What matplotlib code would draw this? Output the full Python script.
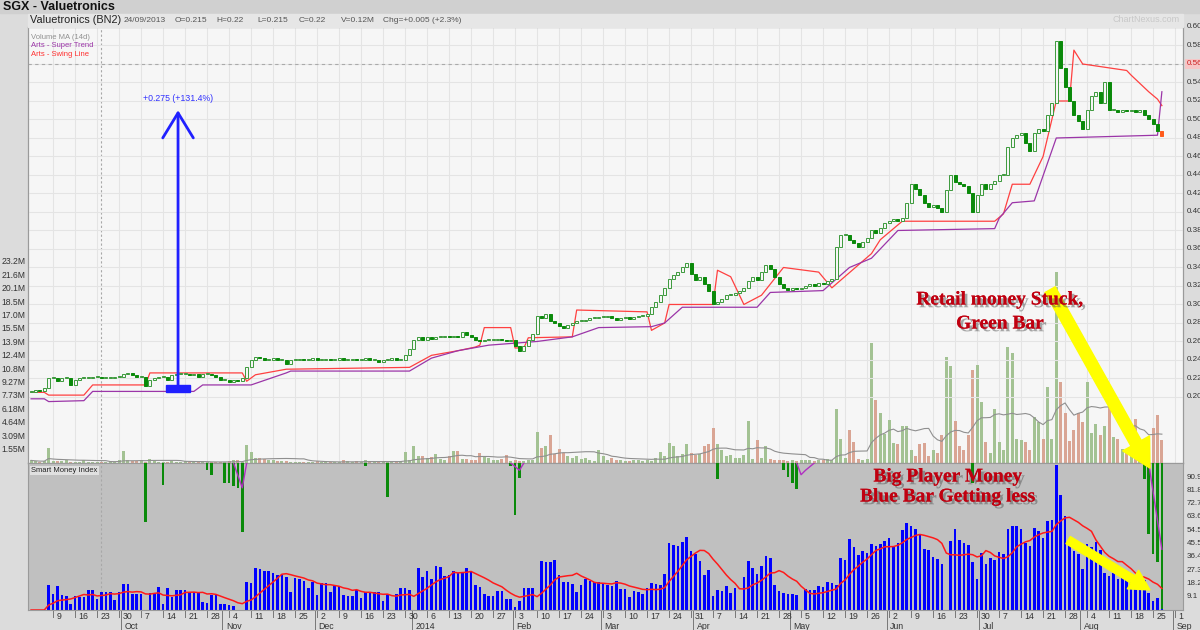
import numpy as np
import pandas as pd
import matplotlib
matplotlib.use("Agg")
import matplotlib.pyplot as plt
from matplotlib.transforms import blended_transform_factory as blend
from matplotlib.patches import Rectangle
import matplotlib.patheffects as pe

plt.rcParams['font.family'] = ['Liberation Sans', 'DejaVu Sans']

# ---------------- DATA ----------------
start_date = '2013-09-02'
# daily closes (trading days, weekly rows)
closes = [
 .205,.207,.206,.210,.220, .220,.217,.220,.220,.213, .218,.220,.220,.220,.222, .222,.220,.220,.220,.222,
 .222,.225,.226,.224,.222, .222,.212,.218,.220,.222, .222,.218,.224,.225,.225, .225,.224,.225,.222,.225,
 .225,.224,.222,.218,.218, .216,.218,.217,.220,.232, .240,.243,.242,.240,.240, .242,.240,.240,.236,.240,
 .240,.241,.240,.240,.242, .240,.240,.241,.240,.240, .242,.240,.240,.241,.240, .240,.242,.240,.240,.238,
 .240,.240,.242,.240,.240, .245,.252,.262,.265,.262, .265,.263,.265,.265,.266, .265,.266,.265,.270,.267,
 .265,.262,.260,.262,.262, .262,.263,.262,.260,.262, .255,.250,.255,.262,.268, .288,.285,.290,.282,.280,
 .277,.275,.278,.280,.282, .282,.283,.285,.285,.286, .286,.288,.285,.283,.285, .286,.284,.286,.287,.288,
 .290,.297,.303,.310,.318, .328,.332,.335,.340,.345, .333,.326,.330,.322,.315, .300,.303,.306,.310,.310,
 .312,.315,.318,.325,.330, .326,.335,.343,.338,.330, .322,.318,.316,.318,.317, .318,.320,.322,.320,.323,
 .322,.325,.328,.362,.375, .375,.370,.366,.362,.368, .372,.380,.377,.383,.388, .390,.392,.390,.393,.410,
 .430,.425,.418,.410,.405, .408,.404,.400,.424,.440, .432,.430,.428,.420,.400, .418,.430,.425,.430,.433,
 .440,.440,.470,.480,.483, .485,.475,.466,.485,.490, .488,.505,.518,.585,.556, .535,.520,.505,.498,.490,
 .510,.525,.530,.518,.540, .510,.510,.508,.510,.509, .510,.508,.510,.505,.500, .495,.488,.482]

volume_m = [
 .3,.2,.15,.2,1.7, .2,.2,.25,.3,.1, .15,.1,.3,.1,.1, .1,.1,.1,.2,.1,
 .4,1.4,.3,.2,.2, .3,.1,.5,.2,.1, .1,.1,.2,.1,.1, .2,.1,.1,.1,.2,
 .1,.1,.1,.1,.1, .2,.3,.4,.1,2.1, 1.3,.6,.6,.5,.3, .3,.2,.2,.2,.1,
 .1,.1,.1,.1,.1, .2,.1,.2,.1,.1, .1,.3,.2,.1,.2, .1,.3,.2,.1,.1,
 .2,.1,.1,.1,.2, 1.3,.3,2.0,.8,.8, .6,.7,1.0,.5,.4, .8,1.4,1.4,.5,.5,
 .4,.3,1.2,.8,.6, .3,.4,.5,.9,.2, .3,.2,.2,.3,.4, 3.6,1.7,1.9,3.2,1.0,
 1.6,1.2,.8,.6,.8, .5,.6,.3,.2,1.5, .8,.4,.6,.3,.3, .2,.2,.3,.4,.2,
 .3,.2,.6,1.3,.8, 2.3,1.9,.8,1.0,2.2, 1.2,.9,1.0,2.0,2.2, 4.0,2.2,1.5,.8,.9,
 .6,.6,.9,4.8,.5, 2.7,.6,2.0,.5,.4, .3,.3,.2,.3,.2, .3,.3,.4,.2,.3,
 .4,.5,.4,6.2,2.8, .6,3.8,2.4,.5,.4, .5,13.8,7.3,5.7,3.3, 5.0,2.3,2.2,4.3,4.3,
 1.5,.8,2.2,2.3,.8, 1.5,1.2,3.2,12.2,11.2, 4.8,2.0,1.5,3.2,10.7, 11.3,7.0,2.4,1.2,6.2,
 2.4,1.5,13.3,12.7,2.8, 2.7,2.4,1.5,5.3,4.7, 2.8,8.8,2.8,22.0,9.3, 5.7,2.5,3.8,5.8,4.7,
 9.3,3.5,4.5,3.2,4.3, 9.0,3.0,2.8,1.6,1.2, 2.0,5.1,.8,2.5,2.0, 4.0,5.5,2.7]

smi_blue = [
 0,0,0,0,
 17,10.7,16.6,10,9.5,4,9.5,9,9,14,14,7.5,12.5,12.5,12.5,7,12,17.8,17.5,10.7,10.7,10.7,
 0,
 11.4,11.4,15.5,4,15,8.6,14,14,14,12.5,12.5,12.5,5.5,5,10,10,3.9,3.9,3.4,2.7,
 0,0,
 19.4,18.2,29,27.8,26.6,26.4,25,24,23.7,22.8,12,21.6,21.2,20,14.8,19.4,10,
 18.7,18.2,12,16.4,16.4,10,9.8,9.5,14,8.4,12.5,12,12,12,6.4,11,
 0,
 11,15.3,14.8,13.7,
 0,
 29,22.8,26.6,20.9,30,29.6,23,23.9,26.5,25,25,28.4,25.7,17,16,10.7,9.5,9.5,13,13,7.3,7.3,2.3,6.4,15.3,15.3,15.3,
 0,
 33.4,33,32.5,34,24,19.4,19.4,17.8,12.5,17,21,20,19.4,
 19,18.5,16.9,16.2,20,14.6,14.1,8.9,12.8,12.3,11.2,15,18.5,18,17,24.8,45.8,44.6,43.5,46.5,49.9,40,38.5,33.3,23.9,27.3,9.6,13.7,13.2,16.4,11.6,15,
 0,
 22.6,33.7,28.7,24.6,30.3,37.1,35.5,17,12.8,11.6,11.2,10.9,10.5,
 0,
 14.4,13.9,13.4,16.6,15.7,19.1,18.5,17.3,35.5,34.4,48.5,43,37.6,40,39,45,43.5,45,47.4,49.2,
 43.5,45.8,54.9,59.4,57.6,55.6,51.5,41.9,41.2,36,34.9,31.7,
 0,
 46.9,55.6,48.1,45.8,44.6,32.6,21.2,39,31.7,35.5,34.4,39.4,38.5,55.4,57.2,57.6,55.4,45.8,43.5,56,53.8,49.2,61,61.3,
 99,
 78.8,64,47.4,40.3,38.5,27.8,45.3,43,46.5,40.8,25.3,23,25.3,21.2,27.1,23,21.9,19.6,20.3,20.7,11.6,5.9,8.2,1.4]

smi_green_days = [26, 30, 40, 41, 44, 45, 46, 47, 48, 76, 81, 109, 110, 111, 156, 171, 172, 173, 174, 214, 253, 254, 255, 256, 257]
smi_green_depth = [40, 15, 5, 8, 14, 14, 16, 17, 47, 2, 23, 2, 35.5, 10, 11, 5, 9.6, 13.7, 17.8, 13.7, 11, 48.5, 62, 67.7, 100]
smi_purple_days = [46, 48, 49, np.nan, 109, 111, 112, np.nan, 174, 175, 176, 178, np.nan, 254, 257]
smi_purple_depth = [0, 17, 0, np.nan, 0, 5, 0, np.nan, 0, 8, 5, 0, np.nan, 0, 59]

swing_days = [0,3,4,12,14,26,27,48,49,51,58,86,91,97,101,102,103,109,110,112,113,123,124,140,141,144,145,155,156,159,162,166,171,179,182,191,193,198,219,221,223,227,228,230,233,236,237,239,249,250,254,256,257]
swing_vals = [.205,.205,.202,.202,.213,.213,.226,.226,.217,.224,.23,.232,.245,.25,.254,.256,.275,.275,.253,.253,.264,.265,.294,.292,.272,.28,.30,.30,.337,.33,.30,.31,.34,.335,.318,.355,.37,.39,.39,.398,.43,.43,.44,.46,.52,.52,.575,.56,.553,.548,.53,.522,.515]
trend_days = [0,3,4,12,14,37,39,50,58,59,86,91,97,104,115,123,129,141,144,148,165,168,180,186,191,197,219,220,223,228,233,256,257]
trend_vals = [.198,.198,.195,.196,.206,.206,.213,.213,.226,.228,.228,.242,.25,.256,.26,.265,.275,.276,.28,.297,.297,.313,.315,.34,.35,.38,.382,.393,.41,.412,.48,.483,.53]

price_ticks = [0.20,0.22,0.24,0.26,0.28,0.30,0.32,0.34,0.36,0.38,0.40,0.42,0.44,0.46,0.48,0.50,0.52,0.54,0.56,0.58,0.60]
vol_ticks_m = [1.55,3.09,4.64,6.18,7.73,9.27,10.8,12.4,13.9,15.5,17.0,18.5,20.1,21.6,23.2]
smi_ticks = [9.1,18.2,27.3,36.4,45.5,54.5,63.6,72.7,81.8,90.9]
month_names = {1:'2014',2:'Feb',3:'Mar',4:'Apr',5:'May',6:'Jun',7:'Jul',8:'Aug',9:'Sep',10:'Oct',11:'Nov',12:'Dec'}
last_price_line = 0.56
measure_day, measure_low, measure_high = 33.4, 0.209, 0.485
measure_text = '+0.275 (+131.4%)'
crosshair_day = 16

# ---------------- LAYOUT ----------------
W, H = 1200, 630
fig = plt.figure(figsize=(12, 6.3), dpi=100, facecolor='#dcdcdc')
def rect(x0, y0, x1, y1):
    return [x0 / W, 1 - y1 / H, (x1 - x0) / W, (y1 - y0) / H]

fig.patches.append(Rectangle((0, 1 - 13 / H), 1, 13 / H, transform=fig.transFigure, color='#d0d0d0', zorder=0))
fig.patches.append(Rectangle((28 / W, 1 - 27 / H), 1155 / W, 13 / H, transform=fig.transFigure, color='#e6e6e6', zorder=0))
fig.text(3 / W, 1 - 7 / H, 'SGX - Valuetronics', fontsize=9, fontweight='bold', va='center', color='#111')
fig.text(30 / W, 1 - 20 / H, 'Valuetronics (BN2)', fontsize=7.8, va='center', color='#222')
for xp, t in [(124, '24/09/2013'), (175, 'O=0.215'), (216, 'H=0.22'), (257, 'L=0.215'), (299, 'C=0.22'), (341, 'V=0.12M'), (383, 'Chg=+0.005 (+2.3%)')]:
    fig.text(xp / W, 1 - 20 / H, t, fontsize=6, va='center', color='#555')
fig.text(1180 / W, 1 - 19 / H, 'ChartNexus.com', fontsize=6.5, ha='right', va='center', color='#c8c8c8')

n = len(closes)
days = np.arange(n)
dates = pd.bdate_range(start_date, periods=n + 6)
xl = (-0.7, 261.8)

ax_v = fig.add_axes(rect(28, 27, 1183, 463))
ax_p = fig.add_axes(rect(28, 27, 1183, 463), sharex=ax_v)
ax_s = fig.add_axes(rect(28, 463, 1183, 610), sharex=ax_v)
ax_v.set_facecolor('#f6f6f6')
ax_p.patch.set_visible(False)
ax_s.set_facecolor('#c0c0c0')
for a in (ax_v, ax_p, ax_s):
    a.set_xlim(*xl)
    a.tick_params(left=False, bottom=False, labelleft=False, labelbottom=False)
    for s in a.spines.values():
        s.set_color('#9a9a9a'); s.set_linewidth(0.8)
ax_p.set_ylim(0.1286, 0.60)
ax_v.set_ylim(0, 50.2)
ax_s.set_ylim(0, 100.5)

# grid
mondays = [i for i in range(len(dates)) if dates[i].weekday() == 0 and i >= 3 and i <= xl[1]]
for i in mondays:
    ax_v.axvline(i, color='#e4e4e4', lw=0.8, zorder=0)
for p in price_ticks:
    ax_p.axhline(p, color='#e4e4e4', lw=0.8, zorder=0)
for a in (ax_v, ax_s):
    a.axvline(crosshair_day, color='#a8a8a8', lw=0.8, ls=(0, (2, 2)), zorder=1)

# volume
c = np.array(closes)
o = np.r_[c[0], c[:-1]]
up = c >= o
vol = np.array(volume_m)
ax_v.bar(days, vol, width=0.7, color=np.where(up, '#a3c293', '#d9a594'), zorder=2)
vma = pd.Series(vol).rolling(14, min_periods=1).mean()
ax_v.plot(days, vma, color='#8f8f8f', lw=0.8, zorder=3)
tv = blend(ax_v.transAxes, ax_v.transData)
for v in vol_ticks_m:
    ax_v.text(-0.002, v, f'{v}M', transform=tv, ha='right', va='center', fontsize=6.2, color='#333', clip_on=False)

# lines
ax_p.plot(swing_days, swing_vals, color='#ff4040', lw=0.9, zorder=3)
ax_p.plot(trend_days, trend_vals, color='#9b35a8', lw=0.9, zorder=3)

# candles
body_lo = np.minimum(o, c)
body_h = np.maximum(np.abs(c - o), 0.0012)
face = np.where(up, '#f6f6f6', '#0a8a0a')
edge = np.where(up, '#3c9a3c', '#0a8a0a')
face[-1] = '#ff5a1a'; edge[-1] = '#ff5a1a'
ax_p.bar(days, body_h, bottom=body_lo, width=0.7, color=face, edgecolor=edge, linewidth=0.7, zorder=4)

# last price dashed line
ax_p.axhline(last_price_line, color='#aaaaaa', lw=0.8, ls=(0, (3, 3)), zorder=1)
tp = blend(ax_p.transAxes, ax_p.transData)
for p in price_ticks:
    if p == last_price_line:
        ax_p.text(1.003, p, f'{p:.2f}', transform=tp, ha='left', va='center', fontsize=5.8, color='#cc2020',
                  bbox=dict(boxstyle='square,pad=0.2', fc='#f6c6c6', ec='none'), clip_on=False)
    else:
        ax_p.text(1.003, p, f'{p:.2f}', transform=tp, ha='left', va='center', fontsize=5.8, color='#333', clip_on=False)

# measure arrow
ax_p.add_patch(Rectangle((measure_day - 2.8, measure_low - 0.004), 5.6, 0.0075, color='#2020ff', zorder=6))
ax_p.annotate('', xy=(measure_day, 0.513), xytext=(measure_day, measure_low),
              arrowprops=dict(arrowstyle='->,head_length=0.9,head_width=0.55', color='#2020ff', lw=2, mutation_scale=20), zorder=6)
ax_p.text(measure_day, 0.523, measure_text, ha='center', va='center', fontsize=6.3, color='#3030ff', zorder=6)

# legend text
ax_p.text(0.003, 0.985, 'Volume MA (14d)', transform=ax_p.transAxes, fontsize=5.5, color='#909090', va='top')
ax_p.text(0.003, 0.965, 'Arts - Super Trend', transform=ax_p.transAxes, fontsize=5.5, color='#9b35a8', va='top')
ax_p.text(0.003, 0.945, 'Arts - Swing Line', transform=ax_p.transAxes, fontsize=5.5, color='#ff3030', va='top')

# SMI pane
blue = np.array(smi_blue)
ax_s.bar(days, blue, width=0.6, color='#0000ff', zorder=2)
top = ax_s.get_ylim()[1]
gd = np.array(smi_green_depth)
ax_s.bar(smi_green_days, -gd, bottom=top, width=0.6, color='#0a8a0a', zorder=3)
smi_ma = pd.Series(blue).rolling(9, min_periods=1).mean()
ax_s.plot(days, smi_ma, color='#ff1a1a', lw=1.1, zorder=4)
ax_s.plot(smi_purple_days, top - np.array(smi_purple_depth), color='#b030c0', lw=1, zorder=4)
ts = blend(ax_s.transAxes, ax_s.transData)
for v in smi_ticks:
    ax_s.text(1.003, v, f'{v}', transform=ts, ha='left', va='center', fontsize=5.8, color='#333', clip_on=False)
ax_s.text(0.003, 0.975, 'Smart Money Index', transform=ax_s.transAxes, fontsize=5.5, color='#222', va='top',
          bbox=dict(boxstyle='square,pad=0.15', fc='#e0e0e0', ec='none'))

# date axis
tx = blend(ax_s.transData, ax_s.transAxes)
for i in mondays:
    ax_s.plot([i, i], [0, -0.045], transform=tx, color='#777', lw=0.7, clip_on=False)
    ax_s.text(i + 0.8, -0.015, str(dates[i].day), transform=tx, fontsize=6.3, ha='left', va='top', color='#333')
for i in range(1, len(dates)):
    if dates[i].month != dates[i - 1].month and i <= xl[1]:
        ax_s.plot([i - 0.5, i - 0.5], [0, -0.14], transform=tx, color='#777', lw=0.7, clip_on=False)
        ax_s.text(i + 0.3, -0.085, month_names[dates[i].month], transform=tx, fontsize=6.3, ha='left', va='top', color='#333')

# commentary texts
shadow = [pe.withSimplePatchShadow(offset=(2, -2), shadow_rgbFace='#555', alpha=0.5), pe.Normal()]
for xp, yp, t in [(1000, 300, 'Retail money Stuck,'), (1000, 324, 'Green Bar'),
                  (948, 477, 'Big Player Money'), (948, 497, 'Blue Bar Getting less')]:
    fig.text(xp / W, 1 - yp / H, t, fontsize=14, fontweight='bold', family='Liberation Serif',
             color='#c00010', ha='center', va='center', path_effects=shadow)

# yellow arrows
ax_s.annotate('', xy=(254.3, 97), xycoords=ax_s.transData, xytext=(231.6, 0.316), textcoords=ax_p.transData,
              arrowprops=dict(arrowstyle='simple,head_width=1.3,head_length=1.2,tail_width=0.5', color='#ffff00',
                              mutation_scale=17, shrinkA=0, shrinkB=0), annotation_clip=False, zorder=10)
ax_s.annotate('', xy=(254.3, 13.7), xytext=(235.7, 47.8),
              arrowprops=dict(arrowstyle='simple,head_width=1.3,head_length=1.2,tail_width=0.5', color='#ffff00',
                              mutation_scale=12, shrinkA=0, shrinkB=0), zorder=10)

fig.savefig('out.png', dpi=100, facecolor=fig.get_facecolor())
